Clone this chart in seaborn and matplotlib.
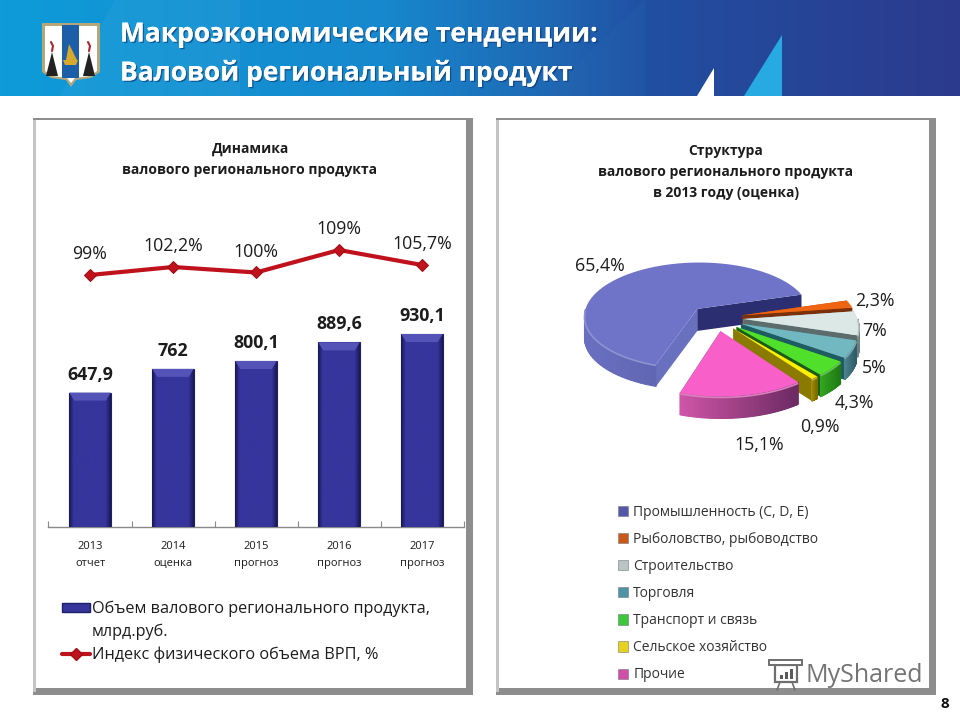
"""
plot.py
Slide: gross regional product, bar + line panel and a 3D style pie panel.
"""

import numpy as np
import matplotlib
matplotlib.use("Agg")
import matplotlib.pyplot as plt
import matplotlib.patheffects as pe
from matplotlib.colors import LinearSegmentedColormap, to_rgb
from matplotlib.lines import Line2D
from matplotlib.patches import Patch, Polygon, Rectangle
import seaborn as sns

# ---------------------------------------------------------------------------
# DATA
# ---------------------------------------------------------------------------
years = ["2013\nотчет", "2014\nоценка", "2015\nпрогноз", "2016\nпрогноз", "2017\nпрогноз"]
volume = [647.9, 762, 800.1, 889.6, 930.1]
volume_labels = ["647,9", "762", "800,1", "889,6", "930,1"]
index_line = [99, 102.2, 100, 109, 103]   # height as drawn in the picture
index_labels = ["99%", "102,2%", "100%", "109%", "105,7%"]

sectors = ["Промышленность (C, D, E)", "Рыболовство, рыбоводство", "Строительство",
           "Торговля", "Транспорт и связь", "Сельское хозяйство", "Прочие"]
shares = [65.4, 2.3, 7, 5, 4.3, 0.9, 15.1]
share_labels = ["65,4%", "2,3%", "7%", "5%", "4,3%", "0,9%", "15,1%"]

top_colors = ["#7074c9", "#ee6410", "#dbe8e6", "#72b8c0", "#50e02c", "#fff000", "#f95fc9"]
side_light = ["#6a70c0", "#b9500f", "#9fb0b0", "#4f8794", "#35a81f", "#a89200", "#cf55a8"]
side_dark = ["#4c5098", "#8a3a08", "#6b7c7c", "#2f5c68", "#1f7a14", "#7d6e00", "#6c2a62"]
wall_colors = ["#2b2e70", "#7a3008", "#5c6c6c", "#1f5c62", "#1b5d18", "#8a7a00", "#6c2a62"]
legend_colors = ["#5458a8", "#c9591a", "#b9c4c4", "#4f94a6", "#3cc83c", "#e6d21e", "#d04fa8"]

BAR_COLOR = "#35359c"
LINE_COLOR = "#c0121c"
TEXT_COLOR = "#1c1c1c"

sns.set_theme(style="white")
plt.rcParams["font.family"] = ["Open Sans", "DejaVu Sans"]

W, H = 960, 720
fig = plt.figure(figsize=(W / 100, H / 100), dpi=100, facecolor="white")


def px_axes(x0, y0, x1, y1, **kw):
    """Axes placed by picture pixels (y from the top)."""
    return fig.add_axes([x0 / W, 1 - y1 / H, (x1 - x0) / W, (y1 - y0) / H], **kw)


# ---------------------------------------------------------------------------
# BACKGROUND: header band, emblem, panels
# ---------------------------------------------------------------------------
bg = px_axes(0, 0, W, H)
bg.axis("off")

header_cmap = LinearSegmentedColormap.from_list(
    "header", [(0, "#0e9bd9"), (0.4, "#1788cd"), (0.58, "#1f66b2"), (0.68, "#214fa2"), (1, "#2c3a8c")])
bg.imshow(np.linspace(0, 1, 480)[None, :], cmap=header_cmap, extent=(0, W, 96, 0), aspect="auto", zorder=0)
bg.set_xlim(0, W)
bg.set_ylim(H, 0)
bg.add_patch(Polygon([(115, 0), (240, 0), (240, 96), (60, 96)], fc="#ffffff", alpha=0.04, ec="none", zorder=1))
bg.add_patch(Polygon([(545, 96), (645, 0), (645, 96)], fc="#2a6ab2", alpha=0.2, ec="none", zorder=1))
bg.add_patch(Polygon([(744, 96), (782, 35), (782, 96)], fc="#27a9e1", ec="none", zorder=2))
bg.add_patch(Polygon([(697, 96), (714, 68), (714, 96)], fc="white", ec="none", zorder=2))

# emblem
bg.add_patch(Polygon([(42, 23), (100, 23), (100, 72), (91, 78), (76, 80), (71, 87), (66, 80), (51, 78), (42, 72)],
                     fc="#b5a77a", ec="none", zorder=3))
bg.add_patch(Polygon([(45, 26), (97, 26), (97, 71), (90, 76), (75, 78), (71, 83), (67, 78), (52, 76), (45, 71)],
                     fc="white", ec="none", zorder=3))
bg.add_patch(Rectangle((62, 25), 17, 53, fc="#1c5ea8", ec="none", zorder=3))
for vx in [52, 89]:
    bg.add_patch(Polygon([(vx, 52), (vx + 6, 76), (vx - 6, 76)], fc="#222222", ec="none", zorder=3))
    bg.plot([vx, vx + 1, vx - 1], [51, 46, 42], color="#b0242a", lw=1.5, zorder=3)
bg.add_patch(Polygon([(63, 60), (78, 60), (76, 65), (65, 65)], fc="#d6a92c", ec="none", zorder=4))
bg.add_patch(Polygon([(69, 44), (66, 60), (77, 60)], fc="#d6a92c", ec="none", zorder=4))

title_fx = [pe.withSimplePatchShadow(offset=(1, -1), shadow_rgbFace="#0b2f66", alpha=0.6), pe.Normal()]
bg.text(120, 34, "Макроэкономические тенденции:", color="white", fontsize=19, fontweight="bold",
        va="center", ha="left", path_effects=title_fx, zorder=5)
bg.text(120, 73, "Валовой региональный продукт", color="white", fontsize=19, fontweight="bold",
        va="center", ha="left", path_effects=title_fx, zorder=5)

for x0, x1 in [(33, 473), (496, 936)]:
    bg.add_patch(Rectangle((x0, 118), x1 - x0, 577, fc="#8d8d8d", ec="none", zorder=1))
    bg.add_patch(Rectangle((x0, 120), 3, 572, fc="#c4c4c4", ec="none", zorder=2))
    bg.add_patch(Rectangle((x0 + 3, 120), x1 - x0 - 10, 568, fc="white", ec="none", zorder=2))

# page number and watermark
bg.text(945, 704, "8", fontsize=11, fontweight="bold", color="#111111", ha="center", va="center", zorder=5)
bg.text(805, 675, "MyShared", fontsize=18, color="#747474", ha="left", va="center", zorder=5)
bg.add_patch(Rectangle((775, 665), 22, 17, fc="white", ec="#6e6e6e", lw=1.6, zorder=5))
bg.add_patch(Rectangle((769, 660), 33, 5, fc="white", ec="#6e6e6e", lw=1.4, zorder=5))
for bx, bh in [(780, 4), (785, 7), (790, 10)]:
    bg.add_patch(Rectangle((bx, 679 - bh), 3, bh, fc="#5a5a5a", ec="none", zorder=6))
for lx, dx in [(780, -3), (792, 3)]:
    bg.plot([lx, lx + dx], [682, 690], color="#6e6e6e", lw=1.2, zorder=5)

# ---------------------------------------------------------------------------
# LEFT PANEL: bars and index line
# ---------------------------------------------------------------------------
bg.text(250, 149, "Динамика", fontsize=10, fontweight="bold", color=TEXT_COLOR, ha="center", va="center", zorder=5)
bg.text(250, 170, "валового регионального продукта", fontsize=10, fontweight="bold", color=TEXT_COLOR,
        ha="center", va="center", zorder=5)

PX_PER_UNIT = 0.2075
ax = px_axes(48.5, 307, 463.5, 527, facecolor="none")
sns.barplot(x=years, y=volume, color=BAR_COLOR, saturation=1, width=0.5, ax=ax, edgecolor="#20206a", linewidth=0.8)
ax.set_ylim(0, 220 / PX_PER_UNIT)
ax.set_xlim(-0.5, 4.5)

# bevel: thin dark sides and a lighter trapezoid at the top of each bar
bevel = LinearSegmentedColormap.from_list(
    "bevel", [(0, "#1a1a58"), (0.1, BAR_COLOR), (0.88, BAR_COLOR), (1, "#1a1a58")])
for bar in ax.patches:
    x0, w, h = bar.get_x(), bar.get_width(), bar.get_height()
    im = ax.imshow(np.linspace(0, 1, 40)[None, :], cmap=bevel, extent=(x0, x0 + w, 0, h), aspect="auto", zorder=3)
    im.set_clip_path(bar)
    top_px = 8 / PX_PER_UNIT
    ax.add_patch(Polygon([(x0, h), (x0 + w, h), (x0 + w * 0.88, h - top_px), (x0 + w * 0.12, h - top_px)],
                         fc="#5454b8", ec="none", zorder=4))
ax.set_xlim(-0.5, 4.5)
ax.set_ylim(0, 220 / PX_PER_UNIT)

ax.bar_label(ax.containers[0], labels=volume_labels, padding=6.5, fontsize=12.8, fontweight="bold", color=TEXT_COLOR)
ax.set_xlabel("")
ax.set_ylabel("")
ax.set_yticks([])
ax.set_xticks(np.arange(-0.5, 5), minor=True)
ax.tick_params(axis="x", which="major", length=0, pad=10, labelsize=8, labelcolor=TEXT_COLOR)
ax.tick_params(axis="x", which="minor", direction="in", length=4, width=0.8, color="#8a8a8a", bottom=True)
for tick in ax.get_xticklabels():
    tick.set_linespacing(1.8)
for side in ["top", "left", "right"]:
    ax.spines[side].set_visible(False)
ax.spines["bottom"].set_color("#8a8a8a")
ax.spines["bottom"].set_linewidth(1)

ax_line = px_axes(48.5, 210, 463.5, 290, facecolor="none")
sns.lineplot(x=years, y=index_line, sort=False, color=LINE_COLOR, lw=3, marker="D", ms=6, mec="#a00c14", ax=ax_line)
ax_line.set_xlim(-0.5, 4.5)
ax_line.set_ylim(99 - 15 / 2.5, 99 + 65 / 2.5)
ax_line.axis("off")
for i, (val, lab) in enumerate(zip(index_line, index_labels)):
    ax_line.annotate(lab, (i, val), xytext=(0, 8.5), textcoords="offset points", ha="center", va="bottom",
                     fontsize=12.8, color=TEXT_COLOR)

left_handles = [Patch(fc=BAR_COLOR, ec="#20206a"), Line2D([], [], lw=0),
                Line2D([], [], color=LINE_COLOR, lw=3, marker="D", ms=6, mec="#a00c14")]
fig.legend(left_handles, ["Объем валового регионального продукта,", "млрд.руб.", "Индекс физического объема ВРП, %"],
           loc="upper left", bbox_to_anchor=(62 / W, 1 - 601 / H), frameon=False, fontsize=11.7,
           handlelength=1.75, handleheight=0.5, handletextpad=0.08, labelspacing=0.4, labelcolor=TEXT_COLOR,
           borderpad=0, borderaxespad=0, alignment="left")

# ---------------------------------------------------------------------------
# RIGHT PANEL: pie in fake 3D
# ---------------------------------------------------------------------------
for y, line in zip([151, 172, 193], ["Структура", "валового регионального продукта", "в 2013 году (оценка)"]):
    bg.text(726, y, line, fontsize=10, fontweight="bold", color=TEXT_COLOR, ha="center", va="center", zorder=5)

# the slices come from ax.pie, then get projected with a small perspective
pie_ax = px_axes(560, 240, 900, 440, facecolor="none")
wedges, _ = pie_ax.pie(shares, startangle=252, counterclock=False, explode=[0.24] * len(shares))
slices = [(w.center, w.theta1, w.theta2) for w in wedges]
for w in wedges:
    w.remove()
pie_ax.set_aspect("auto")
pie_ax.set_xlim(560, 900)
pie_ax.set_ylim(440, 240)
pie_ax.axis("off")

PX0, PY0, RX, RY, PERSP, DEPTH = 716, 318, 114, 54, 0.12, 22


def project(u, v):
    s = 1 / (1 + PERSP * v)
    return PX0 + RX * u * s, PY0 - RY * v * s


def mix(c1, c2, t):
    a, b = np.array(to_rgb(c1)), np.array(to_rgb(c2))
    return tuple(a + (b - a) * t)


for i, ((cx, cy), t1, t2) in enumerate(slices):
    angles = np.radians(np.linspace(t1, t2, 90))
    xs, ys = project(cx + np.cos(angles), cy + np.sin(angles))
    ax0, ay0 = project(cx, cy)

    # the two flat cut faces first
    pie_ax.add_patch(Polygon([(ax0, ay0), (xs[-1], ys[-1]), (xs[-1], ys[-1] + DEPTH), (ax0, ay0 + DEPTH)],
                             fc=side_light[i], ec="none"))
    pie_ax.add_patch(Polygon([(ax0, ay0), (xs[0], ys[0]), (xs[0], ys[0] + DEPTH), (ax0, ay0 + DEPTH)],
                             fc=wall_colors[i], ec="none"))

    # outer rim as thin quads, light to dark across the slice; the back half faces away
    xmin, xmax = xs.min(), xs.max()
    for j in range(len(xs) - 1):
        if np.sin(angles[j]) > 0:
            continue
        t = (xs[j] - xmin) / max(xmax - xmin, 1)
        col = mix(side_light[i], side_dark[i], t)
        quad = [(xs[j], ys[j]), (xs[j + 1], ys[j + 1]), (xs[j + 1], ys[j + 1] + DEPTH), (xs[j], ys[j] + DEPTH)]
        pie_ax.add_patch(Polygon(quad, fc=col, ec=col, lw=0.8))

    # top face with a soft highlight along the front of the rim
    pie_ax.add_patch(Polygon(np.column_stack([np.r_[ax0, xs], np.r_[ay0, ys]]), fc=top_colors[i], ec="none"))
    front = np.sin(angles) <= 0
    pie_ax.plot(xs[front], ys[front] + 1, color=mix(side_light[i], "white", 0.25), lw=1.2, solid_capstyle="butt")

label_xy = [(600, 266), (875, 301), (875, 331), (874, 368), (854, 403), (820, 427), (759, 445)]
for lab, (lx, ly) in zip(share_labels, label_xy):
    bg.text(lx, ly, lab, fontsize=12.8, color=TEXT_COLOR, ha="center", va="center", zorder=5)

right_handles = [Patch(fc=c, ec="#777777", lw=0.4) for c in legend_colors]
fig.legend(right_handles, sectors, loc="upper left", bbox_to_anchor=(618 / W, 1 - 505 / H), frameon=False,
           fontsize=10, handlelength=0.75, handleheight=0.75, handletextpad=0.35, labelspacing=0.87,
           labelcolor="#333333", borderpad=0, borderaxespad=0)

fig.savefig("out.png", dpi=100)
